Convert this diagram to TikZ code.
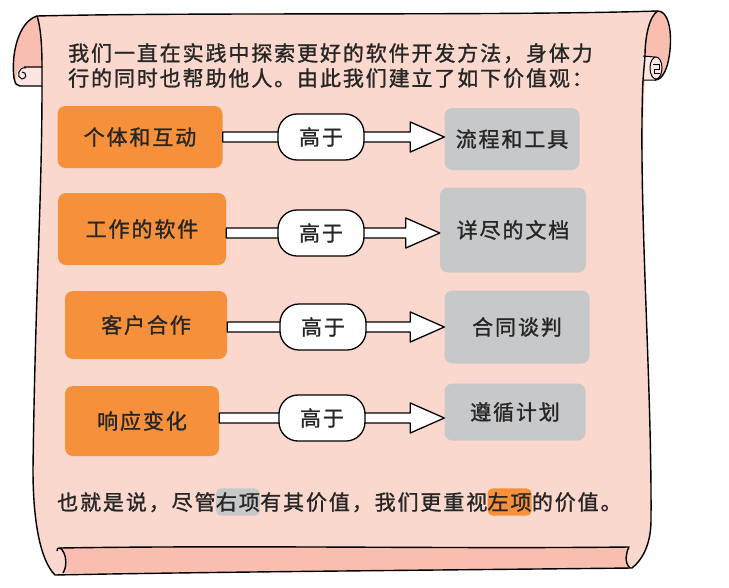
\documentclass[tikz,border=0pt]{standalone}
\usepackage{fontspec}
\newfontfamily\cjkfont[LetterSpace=9, FakeBold=1.2]{Noto Sans CJK SC}
\usetikzlibrary{calc}

\definecolor{sheet}{RGB}{250,216,206}
\definecolor{rollpink}{RGB}{249,190,175}
\definecolor{bandpink}{RGB}{253,230,225}
\definecolor{orangebox}{RGB}{246,144,58}
\definecolor{graybox}{RGB}{199,200,202}
\definecolor{ink}{RGB}{38,38,38}

\begin{document}
\begin{tikzpicture}[x=1pt, y=-1pt,
	font=\cjkfont\fontsize{21}{25}\selectfont, text=ink,
	leftbox/.style={fill=orangebox, rounded corners=8pt, inner sep=0},
	rightbox/.style={fill=graybox, rounded corners=8pt, inner sep=0},
	oval/.style={draw=black, line width=1.3pt, fill=white, rounded corners=19pt,
		minimum width=86pt, minimum height=46pt, inner sep=0},
	blockarrow/.style={draw=black, line width=1.3pt, fill=white, line join=round},
	plain/.style={anchor=base west, inner sep=0},
	hlgray/.style={plain, fill=graybox, rounded corners=5pt, inner ysep=4pt},
	hlorange/.style={plain, fill=orangebox, rounded corners=5pt, inner ysep=4pt}]

\useasboundingbox (0, 0) rectangle (729, 587);

\fill[color=sheet]
	(37, 16) .. controls (200, 12) and (500, 16) ..
	(658, 11) .. controls (650, 15) and (645, 35) ..
	(645, 80) .. controls (638, 200) and (652, 380) ..
	(651, 520) .. controls (651, 545) and (642, 560) ..
	(632, 568) .. controls (450, 570) and (200, 572) ..
	(55, 575) .. controls (40, 560) and (33, 520) ..
	(33, 470) .. controls (35, 300) and (42, 200) ..
	(42, 86) --
	(42, 67) .. controls (42, 40) and (40, 25) ..
	(37, 16);

%curls start
\fill[color=rollpink]
	(37, 16) .. controls (18, 22) and (11, 55) ..
	(14, 78) .. controls (15, 84) and (17, 86) ..
	(20, 86) --
	(42, 86) --
	(42, 67) .. controls (42, 40) and (40, 25) ..
	(37, 16);
\fill[color=bandpink]
	(22, 67) -- (42, 67) -- (42, 86) -- (20, 86) .. controls (16, 86) and (15, 80) ..
	(17, 74) .. controls (18, 70) and (20, 67) ..
	(22, 67);

\fill[color=rollpink]
	(658, 11) .. controls (668, 11) and (672, 30) ..
	(670, 50) .. controls (668, 70) and (662, 80) ..
	(655, 80) --
	(645, 80) --
	(645, 55) .. controls (645, 35) and (650, 15) ..
	(658, 11);
\fill[color=bandpink]
	(643, 56) -- (655, 57) -- (655, 80) -- (643, 80) -- (643, 56);
\filldraw[fill=bandpink, draw=black, line width=1pt]
	(656, 68) ellipse [x radius=6, y radius=11];
\draw[line width=0.9pt]
	(653, 64) -- (659, 64) -- (659, 69) -- (654, 69) -- (654, 73) -- (660, 73);

\fill[color=rollpink]
	(60, 548) .. controls (250, 545) and (450, 549) ..
	(629, 547) .. controls (626, 553) and (624, 562) ..
	(630, 568) .. controls (450, 570) and (200, 572) ..
	(63, 573) .. controls (68, 565) and (66, 552) ..
	(60, 548);
%curls end

%outline
\draw[line width=1.4pt, line join=round]
	(42, 67) .. controls (42, 40) and (40, 25) ..
	(37, 16) .. controls (200, 12) and (500, 16) ..
	(658, 11) .. controls (668, 11) and (672, 30) ..
	(670, 50) .. controls (668, 70) and (662, 80) ..
	(655, 80);
\draw[line width=1.4pt, line join=round]
	(658, 11) .. controls (650, 15) and (645, 35) ..
	(645, 56) --
	(643, 80) .. controls (638, 200) and (652, 380) ..
	(651, 520) .. controls (651, 545) and (642, 560) ..
	(632, 568) .. controls (450, 570) and (200, 572) ..
	(55, 575) .. controls (40, 560) and (33, 520) ..
	(33, 470) .. controls (35, 300) and (42, 200) ..
	(42, 86);
\draw[line width=1.4pt]
	(37, 16) .. controls (18, 22) and (11, 55) ..
	(14, 78) .. controls (15, 84) and (17, 86) ..
	(20, 86) -- (42, 86) -- (42, 67) -- (24, 67);
\draw[line width=1pt]
	(26, 68) .. controls (18, 66) and (16, 78) ..
	(22, 79) .. controls (27, 79) and (27, 72) ..
	(22, 72);
\draw[line width=1pt] (643, 56) -- (655, 57) (643, 80) -- (656, 80);
\draw[line width=1.4pt, line join=round]
	(57, 551) .. controls (57, 548) and (58, 548) ..
	(60, 548) .. controls (250, 545) and (450, 549) ..
	(629, 547) .. controls (626, 553) and (624, 562) ..
	(630, 568);
\draw[line width=1.4pt]
	(60, 548) .. controls (66, 552) and (68, 565) ..
	(63, 573);

%intro text
\node[plain] (intro1) at (68, 61) {我们一直在实践中探索更好的软件开发方法，身体力};
\node[plain] (intro2) at (68, 86) {行的同时也帮助他人。由此我们建立了如下价值观：};

%values
\node[leftbox, minimum width=165pt, minimum height=62pt] (l1) at (140, 137) {个体和互动};
\node[rightbox, minimum width=135pt, minimum height=62pt] (r1) at (512, 139) {流程和工具};
\node[leftbox, minimum width=168pt, minimum height=72pt] (l2) at (142, 229) {工作的软件};
\node[rightbox, minimum width=146pt, minimum height=85pt] (r2) at (513, 230) {详尽的文档};
\node[leftbox, minimum width=162pt, minimum height=68pt] (l3) at (146, 325) {客户合作};
\node[rightbox, minimum width=145pt, minimum height=73pt] (r3) at (517, 327) {合同谈判};
\node[leftbox, minimum width=154pt, minimum height=70pt] (l4) at (142, 421) {响应变化};
\node[rightbox, minimum width=141pt, minimum height=57pt] (r4) at (515, 412) {遵循计划};

\coordinate (o1) at (321, 137);
\coordinate (o2) at (321, 233);
\coordinate (o3) at (323, 327);
\coordinate (o4) at (322, 418);

\foreach \i in {1,...,4} {
	\draw[blockarrow] (l\i.east |- o\i) ++(0, -5) --
		($(r\i.west |- o\i) + (-34, -5)$) -- ++(0, -10) --
		(r\i.west |- o\i) -- ++(-34, 15) -- ++(0, -10) --
		($(l\i.east |- o\i) + (0, 5)$) -- cycle;
	\node[oval] (h\i) at (o\i) {高于};
}

%summary
\node[plain] (s1) at (57, 510) {也就是说，尽管};
\node[hlgray] (s2) at (s1.base east) {右项};
\node[plain] (s3) at (s2.base east) {有其价值，我们更重视};
\node[hlorange] (s4) at (s3.base east) {左项};
\node[plain] (s5) at (s4.base east) {的价值。};

\end{tikzpicture}
\end{document}
